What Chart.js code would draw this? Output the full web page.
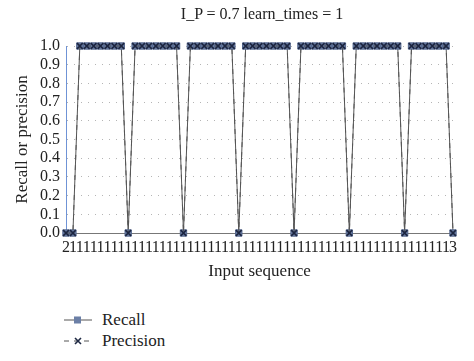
<!DOCTYPE html>
<html lang="en">
<head>
    <meta charset="UTF-8">
    <title>I_P = 0.7 learn_times = 1</title>
    <script src="https://cdn.jsdelivr.net/npm/chart.js"></script>
    <style>
        body {
            margin: 0;
            padding: 0;
            background: #ffffff;
            font-family: "Liberation Serif", "DejaVu Serif", serif;
            color: #222;
        }

        .wrap {
            position: relative;
            width: 474px;
            height: 361px;
        }

        .title {
            position: absolute;
            left: 66px;
            width: 392px;
            top: 5px;
            text-align: center;
            font-size: 16px;
        }

        .chart-box {
            position: absolute;
            left: 0;
            top: 0;
            width: 474px;
            height: 290px;
        }

        .legend {
            position: absolute;
            left: 64px;
            top: 309px;
            font-size: 17px;
        }

        .legend div {
            display: flex;
            align-items: center;
            height: 21px;
        }

        .legend svg {
            margin-right: 10px;
        }
    </style>
</head>
<body>
    <div class="wrap">
        <div class="chart-box"><canvas id="recallChart"></canvas></div>
        <div class="title">I_P = 0.7 learn_times = 1</div>
        <div class="legend">
            <div>
                <svg width="28" height="10">
                    <line x1="0" y1="5" x2="28" y2="5" stroke="#555" stroke-width="1"/>
                    <rect x="10" y="1.5" width="7" height="7" fill="#6b7fa6"/>
                </svg>Recall
            </div>
            <div>
                <svg width="28" height="10">
                    <line x1="0" y1="5" x2="28" y2="5" stroke="#555" stroke-width="1" stroke-dasharray="5,5"/>
                    <path d="M11 2 L17 8 M17 2 L11 8" stroke="#1f2a44" stroke-width="1.6"/>
                </svg>Precision
            </div>
        </div>
    </div>

    <script>
        let inputLabels = ["2", "1", "1", "1", "1", "1", "1", "1", "1", "1", "1", "1", "1", "1", "1", "1", "1", "1", "1",
            "1", "1", "1", "1", "1", "1", "1", "1", "1", "1", "1", "1", "1", "1", "1", "1", "1", "1", "1",
            "1", "1", "1", "1", "1", "1", "1", "1", "1", "1", "1", "1", "1", "1", "1", "1", "1", "1", "3"];

        let recall = [0, 0, 1, 1, 1, 1, 1, 1, 1, 0, 1, 1, 1, 1, 1, 1, 1, 0, 1, 1, 1, 1, 1, 1, 1, 0,
            1, 1, 1, 1, 1, 1, 1, 0, 1, 1, 1, 1, 1, 1, 1, 0, 1, 1, 1, 1, 1, 1, 1, 0, 1, 1, 1, 1, 1, 1, 0];

        let precision = [0, 0, 1, 1, 1, 1, 1, 1, 1, 0, 1, 1, 1, 1, 1, 1, 1, 0, 1, 1, 1, 1, 1, 1, 1, 0,
            1, 1, 1, 1, 1, 1, 1, 0, 1, 1, 1, 1, 1, 1, 1, 0, 1, 1, 1, 1, 1, 1, 1, 0, 1, 1, 1, 1, 1, 1, 0];

        let font = "'Liberation Serif', 'DejaVu Serif', serif";

        const ctx = document.getElementById('recallChart').getContext('2d');
        new Chart(ctx, {
            type: 'line',
            data: {
                labels: inputLabels,
                datasets: [
                    {
                        label: 'Recall',
                        data: recall,
                        order: 1,
                        borderColor: '#555555',
                        borderWidth: 1,
                        pointStyle: 'rect',
                        pointRadius: 4.5,
                        pointBackgroundColor: '#6b7fa6',
                        pointBorderColor: '#56688e',
                        pointBorderWidth: 1,
                        fill: false,
                        tension: 0,
                        clip: false
                    },
                    {
                        label: 'Precision',
                        data: precision,
                        order: 0,
                        borderColor: '#555555',
                        borderWidth: 1,
                        borderDash: [5, 5],
                        pointStyle: 'crossRot',
                        pointRadius: 4,
                        pointBorderColor: '#1c2540',
                        pointBorderWidth: 1.6,
                        fill: false,
                        tension: 0,
                        clip: false
                    }
                ]
            },
            options: {
                responsive: true,
                maintainAspectRatio: false,
                animation: false,
                layout: {
                    padding: { top: 46, right: 21, bottom: 0, left: 0 }
                },
                plugins: {
                    legend: { display: false },
                    title: { display: false },
                    tooltip: { enabled: false }
                },
                scales: {
                    x: {
                        offset: false,
                        grid: { display: false, drawTicks: false },
                        border: { display: true, color: '#777777' },
                        ticks: {
                            autoSkip: false,
                            maxRotation: 0,
                            minRotation: 0,
                            padding: 5,
                            color: '#222',
                            font: { family: font, size: 16 }
                        },
                        title: {
                            display: true,
                            text: 'Input sequence',
                            color: '#222',
                            font: { family: font, size: 17 },
                            padding: { top: 4, bottom: 8 }
                        },
                        afterFit: function(scale) { scale.height = 57; }
                    },
                    y: {
                        min: 0,
                        max: 1,
                        grid: {
                            drawTicks: false,
                            color: function(c) { return c.tick.value === 0 ? 'rgba(0,0,0,0)' : '#b5b5b5'; },
                            lineWidth: 1
                        },
                        border: { display: true, color: '#6f93d6', dash: [1, 6] },
                        ticks: {
                            stepSize: 0.1,
                            autoSkip: false,
                            padding: 6,
                            color: '#222',
                            font: { family: font, size: 16 },
                            callback: function(value) { return value.toFixed(1); }
                        },
                        title: {
                            display: true,
                            text: 'Recall or precision',
                            color: '#222',
                            font: { family: font, size: 17 },
                            padding: { top: 12, bottom: 0 }
                        },
                        afterFit: function(scale) { scale.width = 66; }
                    }
                }
            }
        });
    </script>
</body>
</html>
